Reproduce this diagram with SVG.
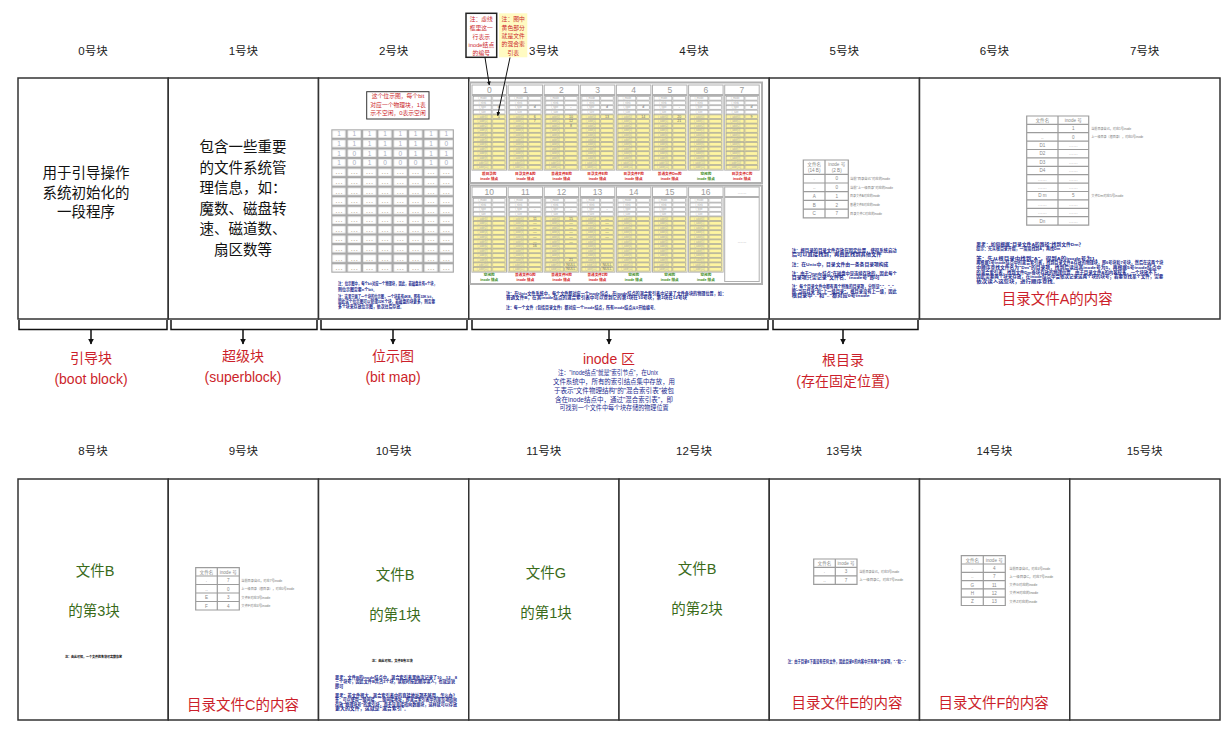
<svg xmlns="http://www.w3.org/2000/svg" width="1227" height="737" viewBox="0 0 1227 737">
<style>
text{font-family:"Liberation Sans","Noto Sans CJK SC",sans-serif}
.box{fill:#fff;stroke:#333;stroke-width:1.5}
.blk{font-size:11.5px;fill:#222;text-anchor:middle}
.big{font-size:14.5px;fill:#111;text-anchor:middle}
.grn{font-size:14.5px;fill:#3a6b1a;text-anchor:middle}
.lab{font-size:14px;fill:#cc1f2b;text-anchor:middle}
.redt{font-size:14.5px;fill:#cc1f2b;text-anchor:middle}
.note{font-size:4.2px;fill:#1d2b8f;font-weight:bold}
.bnote{font-size:3.8px;fill:#111;font-weight:bold}
.tb{fill:none;stroke:#9c9c9c;stroke-width:1.2}
.tt{font-size:4.6px;fill:#888;text-anchor:middle}
.ann{font-size:3.4px;fill:#777}
.cap{font-size:3.6px;font-weight:bold;text-anchor:middle}
.cr{fill:#d42020}
.cg{fill:#3a8a20}
.cv{font-size:3.6px;fill:#666;text-anchor:middle}
.hn{font-size:8.5px;fill:#9a9a9a;text-anchor:middle}
.bit{font-size:6.5px;fill:#aab0c2;text-anchor:middle}
.dot{font-size:8px;fill:#a89478;text-anchor:middle}
.lbl{font-size:2.6px;fill:#aaa;text-anchor:middle}
.rn{font-size:5.8px;fill:#cc1f2b;text-anchor:middle}
.conn{fill:none;stroke:#111;stroke-width:1.5}
</style>
<defs>
<marker id="ah" viewBox="0 0 10 10" refX="9" refY="5" markerWidth="6" markerHeight="6" markerUnits="userSpaceOnUse" orient="auto"><path d="M0,0L10,5L0,10z" fill="#111"/></marker>
<marker id="ahs" viewBox="0 0 10 10" refX="9" refY="5" markerWidth="4" markerHeight="4" markerUnits="userSpaceOnUse" orient="auto"><path d="M0,0L10,5L0,10z" fill="#111"/></marker>
<pattern id="rowp" patternUnits="userSpaceOnUse" x="0" y="11" width="34.5" height="4.6"><rect x="1.5" y="0.4" width="18" height="3.8" fill="none" stroke="#9a9a9a" stroke-width="0.6"/><rect x="20.5" y="0.4" width="12.5" height="3.8" fill="none" stroke="#9a9a9a" stroke-width="0.6"/></pattern>
<pattern id="bitp" patternUnits="userSpaceOnUse" x="331.3" y="129.3" width="15.33" height="9.56"><rect x="0.6" y="0.6" width="14.1" height="8.36" fill="#fff" stroke="#a8a8a8" stroke-width="1.2"/></pattern>
<g id="card">
<rect x="0" y="0" width="34.5" height="9.5" fill="#fff" stroke="#b0b0b0" stroke-width="1"/>
<rect x="0" y="10.5" width="34.5" height="74.6" fill="#fff" stroke="#b0b0b0" stroke-width="1"/>
<rect x="0.5" y="29.4" width="33.5" height="55.2" fill="#fff5a0"/>
<rect x="0" y="11" width="34.5" height="73.6" fill="url(#rowp)"/>
<text class="lbl"><tspan x="10.5" y="14.2">i_mode</tspan><tspan x="10.5" y="18.8">i_nlink</tspan><tspan x="10.5" y="23.4">i_type</tspan><tspan x="10.5" y="28">i_size</tspan><tspan x="10.5" y="32.6">i_addr[0]</tspan><tspan x="10.5" y="37.2">i_addr[1]</tspan><tspan x="10.5" y="41.8">i_addr[2]</tspan><tspan x="10.5" y="46.4">i_addr[3]</tspan><tspan x="10.5" y="51">i_addr[4]</tspan><tspan x="10.5" y="55.6">i_addr[5]</tspan><tspan x="10.5" y="60.2">i_addr[6]</tspan><tspan x="10.5" y="64.8">i_addr[7]</tspan><tspan x="10.5" y="69.4">i_addr[8]</tspan><tspan x="10.5" y="74">i_addr[9]</tspan><tspan x="10.5" y="78.6">i_addr[10]</tspan><tspan x="10.5" y="83.2">i_addr[11]</tspan></text>
</g>
</defs>
<rect width="1227" height="737" fill="#fff"/>

<!-- top row -->
<g id="block0">
<text class="blk" x="93" y="55">0号块</text>
<rect class="box" x="18" y="78" width="150.25" height="241"/>
<text class="big" x="86" y="178" font-size="14">用于引导操作</text>
<text class="big" x="86" y="197.5" font-size="14">系统初始化的</text>
<text class="big" x="86" y="217" font-size="14">一段程序</text>
</g>
<g id="block1">
<text class="blk" x="243.4" y="55">1号块</text>
<rect class="box" x="168.25" y="78" width="150.25" height="241"/>
<text class="big" x="243" y="152">包含一些重要</text>
<text class="big" x="243" y="172.5">的文件系统管</text>
<text class="big" x="243" y="193">理信息，如：</text>
<text class="big" x="243" y="213.5">魔数、磁盘转</text>
<text class="big" x="243" y="234">速、磁道数、</text>
<text class="big" x="243" y="254.5">扇区数等</text>
</g>
<g id="block2">
<text class="blk" x="393.6" y="55">2号块</text>
<rect class="box" x="318.5" y="78" width="150.25" height="241"/>
<rect x="366.7" y="91.7" width="62.3" height="27.3" fill="#fff" stroke="#333" stroke-width="1"/>
<text class="rn" x="398" y="98">这个位示图，每个bit</text>
<text class="rn" x="398" y="106.5">对应一个物理块，1表</text>
<text class="rn" x="398" y="115">示不空闲，0表示空闲</text>
<rect x="331.3" y="129.3" width="122.64" height="143.4" fill="url(#bitp)"/>
<text class="bit" x="339 354.3 369.6 385 400.3 415.6 431 446.3" y="136.4">11111111</text>
<text class="bit" x="339 354.3 369.6 385 400.3 415.6 431 446.3" y="145.9">11111110</text>
<text class="bit" x="339 354.3 369.6 385 400.3 415.6 431 446.3" y="155.5">10110111</text>
<text class="bit" x="339 354.3 369.6 385 400.3 415.6 431 446.3" y="165.1">10100010</text>
<text class="dot" x="339 354.3 369.6 385 400.3 415.6 431 446.3" y="174.4">……………………</text>
<text class="dot" x="339 354.3 369.6 385 400.3 415.6 431 446.3" y="184">……………………</text>
<text class="dot" x="339 354.3 369.6 385 400.3 415.6 431 446.3" y="193.5">……………………</text>
<text class="dot" x="339 354.3 369.6 385 400.3 415.6 431 446.3" y="203.1">……………………</text>
<text class="dot" x="339 354.3 369.6 385 400.3 415.6 431 446.3" y="212.7">……………………</text>
<text class="dot" x="339 354.3 369.6 385 400.3 415.6 431 446.3" y="222.2">……………………</text>
<text class="dot" x="339 354.3 369.6 385 400.3 415.6 431 446.3" y="231.8">……………………</text>
<text class="dot" x="339 354.3 369.6 385 400.3 415.6 431 446.3" y="241.3">……………………</text>
<text class="dot" x="339 354.3 369.6 385 400.3 415.6 431 446.3" y="250.9">……………………</text>
<text class="dot" x="339 354.3 369.6 385 400.3 415.6 431 446.3" y="260.5">……………………</text>
<text class="dot" x="339 354.3 369.6 385 400.3 415.6 431 446.3" y="270">……………………</text>
<text class="note" x="338" y="285" textLength="99" lengthAdjust="spacingAndGlyphs">注：位示图中，每个bit对应一个物理块，因此，若磁盘共有n个块，</text>
<text class="note" x="338" y="290.8" textLength="39" lengthAdjust="spacingAndGlyphs">则位示图需要n个bit。</text>
<text class="note" x="338" y="298.2" textLength="96.7" lengthAdjust="spacingAndGlyphs">注：这里只画了一个块的位示图，一个块若有4KB，即有32K bit，</text>
<text class="note" x="338" y="302.8" textLength="97" lengthAdjust="spacingAndGlyphs">因此这个位示图可以管理32K个块，若磁盘的块更多，则需要</text>
<text class="note" x="338" y="307.8" textLength="66" lengthAdjust="spacingAndGlyphs">多个块来存放位示图，依次往后存放。</text>
</g>
<g id="block3-4">
<text class="blk" x="543.8" y="55">3号块</text>
<text class="blk" x="694" y="55">4号块</text>
<rect class="box" x="468.75" y="78" width="300.5" height="241"/>
<rect x="470" y="82.5" width="292" height="100.5" fill="none" stroke="#b0b0b0" stroke-width="2"/>
<rect x="470" y="185.5" width="292" height="98.5" fill="none" stroke="#b0b0b0" stroke-width="2"/>
<text class="note" x="506" y="295" textLength="220" lengthAdjust="spacingAndGlyphs">注：在Unix文件系统中，每个文件都对应一个inode结点，在inode结点的混合索引表中记录了文件各块的物理位置，如：</text>
<text class="note" x="506" y="299.2" textLength="181" lengthAdjust="spacingAndGlyphs">普通文件B，在其inode结点的混合索引表中可以查到它的第1块在10号块，第2块在12号块</text>
<text class="note" x="506" y="309" textLength="151.7" lengthAdjust="spacingAndGlyphs">注：每一个文件（包括目录文件）都对应一个inode结点，所有inode结点从0开始编号。</text>
</g>
<g id="inode0"><use href="#card" x="472" y="85"/><text class="hn" x="489.25" y="92.5">0</text><text class="cv" x="498.75" y="108.4">d</text><text class="cv" x="498.75" y="117.6">5</text><text class="cap cr" x="489.25" y="175.3">根目录的</text><text class="cap cr" x="489.25" y="179.5">inode 结点</text></g>
<g id="inode1"><use href="#card" x="508.1" y="85"/><text class="hn" x="525.35" y="92.5">1</text><text class="cv" x="534.85" y="108.4">d</text><text class="cv" x="534.85" y="117.6">6</text><text class="cv" x="534.85" y="122.2">7</text><text class="cap cr" x="525.35" y="175.3">目录文件A的</text><text class="cap cr" x="525.35" y="179.5">inode 结点</text></g>
<g id="inode2"><use href="#card" x="544.2" y="85"/><text class="hn" x="561.45" y="92.5">2</text><text class="cv" x="570.95" y="108.4">-</text><text class="cv" x="570.95" y="117.6">10</text><text class="cv" x="570.95" y="122.2">12</text><text class="cv" x="570.95" y="126.8">8</text><text class="cap cr" x="561.45" y="175.3">普通文件B的</text><text class="cap cr" x="561.45" y="179.5">inode 结点</text></g>
<g id="inode3"><use href="#card" x="580.3" y="85"/><text class="hn" x="597.55" y="92.5">3</text><text class="cv" x="607.05" y="108.4">d</text><text class="cv" x="607.05" y="117.6">13</text><text class="cap cr" x="597.55" y="175.3">目录文件E的</text><text class="cap cr" x="597.55" y="179.5">inode 结点</text></g>
<g id="inode4"><use href="#card" x="616.4" y="85"/><text class="hn" x="633.65" y="92.5">4</text><text class="cv" x="643.15" y="108.4">d</text><text class="cv" x="643.15" y="117.6">14</text><text class="cap cr" x="633.65" y="175.3">目录文件F的</text><text class="cap cr" x="633.65" y="179.5">inode 结点</text></g>
<g id="inode5"><use href="#card" x="652.5" y="85"/><text class="hn" x="669.75" y="92.5">5</text><text class="cv" x="679.25" y="108.4">-</text><text class="cv" x="679.25" y="117.6">20</text><text class="cv" x="679.25" y="122.2">21</text><text class="cap cr" x="669.75" y="175.3">普通文件Dm的</text><text class="cap cr" x="669.75" y="179.5">inode 结点</text></g>
<g id="inode6"><use href="#card" x="688.6" y="85"/><text class="hn" x="705.85" y="92.5">6</text><text class="cap cg" x="705.85" y="175.3">空闲的</text><text class="cap cg" x="705.85" y="179.5">inode 结点</text></g>
<g id="inode7"><use href="#card" x="724.7" y="85"/><text class="hn" x="741.95" y="92.5">7</text><text class="cv" x="751.45" y="108.4">d</text><text class="cv" x="751.45" y="117.6">9</text><text class="cap cr" x="741.95" y="175.3">目录文件C的</text><text class="cap cr" x="741.95" y="179.5">inode 结点</text></g>
<g id="inode10"><use href="#card" x="472" y="187"/><text class="hn" x="489.25" y="194.5">10</text><text class="cap cg" x="489.25" y="276.3">空闲的</text><text class="cap cg" x="489.25" y="280.5">inode 结点</text></g>
<g id="inode11"><use href="#card" x="508.1" y="187"/><text class="hn" x="525.35" y="194.5">11</text><text class="cv" x="534.85" y="210.4">-</text><text class="cv" x="534.85" y="219.6">11</text><text class="cv" x="534.85" y="224.2">—</text><text class="cv" x="534.85" y="228.8">—</text><text class="cv" x="534.85" y="233.4">—</text><text class="cv" x="534.85" y="238">—</text><text class="cv" x="534.85" y="242.6">—</text><text class="cv" x="534.85" y="247.2">16</text><text class="cap cr" x="525.35" y="276.3">普通文件G的</text><text class="cap cr" x="525.35" y="280.5">inode 结点</text></g>
<g id="inode12"><use href="#card" x="544.2" y="187"/><text class="hn" x="561.45" y="194.5">12</text><text class="cv" x="570.95" y="210.4">-</text><text class="cv" x="570.95" y="219.6">15</text><text class="cv" x="570.95" y="224.2">—</text><text class="cv" x="570.95" y="228.8">—</text><text class="cv" x="570.95" y="233.4">—</text><text class="cv" x="570.95" y="238">—</text><text class="cv" x="570.95" y="242.6">—</text><text class="cv" x="570.95" y="261">21</text><text class="cv" x="570.95" y="265.6">NULL</text><text class="cv" x="570.95" y="270.2">NULL</text><text class="cap cr" x="561.45" y="276.3">普通文件H的</text><text class="cap cr" x="561.45" y="280.5">inode 结点</text></g>
<g id="inode13"><use href="#card" x="580.3" y="187"/><text class="hn" x="597.55" y="194.5">13</text><text class="cv" x="607.05" y="210.4">-</text><text class="cv" x="607.05" y="219.6">—</text><text class="cv" x="607.05" y="224.2">—</text><text class="cv" x="607.05" y="228.8">—</text><text class="cv" x="607.05" y="233.4">—</text><text class="cv" x="607.05" y="238">—</text><text class="cv" x="607.05" y="265.6">NULL</text><text class="cv" x="607.05" y="270.2">NULL</text><text class="cap cr" x="597.55" y="276.3">普通文件Z的</text><text class="cap cr" x="597.55" y="280.5">inode 结点</text></g>
<g id="inode14"><use href="#card" x="616.4" y="187"/><text class="hn" x="633.65" y="194.5">14</text><text class="cap cg" x="633.65" y="276.3">空闲的</text><text class="cap cg" x="633.65" y="280.5">inode 结点</text></g>
<g id="inode15"><use href="#card" x="652.5" y="187"/><text class="hn" x="669.75" y="194.5">15</text><text class="cap cg" x="669.75" y="276.3">空闲的</text><text class="cap cg" x="669.75" y="280.5">inode 结点</text></g>
<g id="inode16"><use href="#card" x="688.6" y="187"/><text class="hn" x="705.85" y="194.5">16</text><text class="cap cg" x="705.85" y="276.3">空闲的</text><text class="cap cg" x="705.85" y="280.5">inode 结点</text></g>
<g id="inode-more">
<rect x="724.7" y="187" width="34.5" height="9.5" fill="#fff" stroke="#b0b0b0" stroke-width="1"/>
<rect x="724.7" y="197.5" width="34.5" height="84" fill="#fff" stroke="#b0b0b0" stroke-width="1"/>
<text class="tt" x="742" y="193.5" fill="#999">……</text>
<text class="tt" x="742" y="243" fill="#999">……</text>
</g>
<g id="note-num">
<rect x="466" y="13.3" width="30.7" height="44" fill="#fff" stroke="#222" stroke-width="1.5"/>
<text class="rn" x="481.3" y="21">注：虚线</text>
<text class="rn" x="481.3" y="29.7">框里这一</text>
<text class="rn" x="481.3" y="38.7">行表示</text>
<text class="rn" x="481.3" y="47" font-size="5.3">inode结点</text>
<text class="rn" x="481.3" y="54.7">的编号</text>
</g>
<g id="note-yellow">
<rect x="499" y="13.3" width="28.3" height="44" fill="#fffbc2"/>
<text class="rn" x="513.2" y="21">注：图中</text>
<text class="rn" x="513.2" y="29.5">黄色部分</text>
<text class="rn" x="513.2" y="38">就是文件</text>
<text class="rn" x="513.2" y="46.3">的混合索</text>
<text class="rn" x="513.2" y="54.7">引表</text>
</g>
<g id="block5">
<text class="blk" x="844.2" y="55">5号块</text>
<rect class="box" x="769.25" y="78" width="150.25" height="241"/>
<path class="tb" d="M803.3,160H848.3V217.8H803.3Z M803.3,174.3H848.3 M803.3,183H848.3 M803.3,191.7H848.3 M803.3,200.4H848.3 M803.3,209.1H848.3 M825,160V217.8"/>
<text class="tt" x="814.2" y="166">文件名</text><text class="tt" x="814.2" y="172">(14 B)</text>
<text class="tt" x="836.7" y="166">inode 号</text><text class="tt" x="836.7" y="172">(2 B)</text>
<text class="tt" x="814.2" y="180.4">.</text><text class="tt" x="836.7" y="180.4">0</text>
<text class="tt" x="814.2" y="189.1">..</text><text class="tt" x="836.7" y="189.1">0</text>
<text class="tt" x="814.2" y="197.8">A</text><text class="tt" x="836.7" y="197.8">1</text>
<text class="tt" x="814.2" y="206.5">B</text><text class="tt" x="836.7" y="206.5">2</text>
<text class="tt" x="814.2" y="215.2">C</text><text class="tt" x="836.7" y="215.2">7</text>
<text class="ann" x="850" y="180" textLength="40" lengthAdjust="spacingAndGlyphs">当前"目录自己"对应的inode</text>
<text class="ann" x="850" y="188.7" textLength="43" lengthAdjust="spacingAndGlyphs">当前"上一级目录"对应的inode</text>
<text class="ann" x="850" y="197.4" textLength="30" lengthAdjust="spacingAndGlyphs">目录文件A对应的inode</text>
<text class="ann" x="850" y="206.1" textLength="30" lengthAdjust="spacingAndGlyphs">普通文件B对应的inode</text>
<text class="ann" x="850" y="214.8" textLength="32" lengthAdjust="spacingAndGlyphs">目录文件C对应的inode</text>
<text class="note" x="791.7" y="251.5" textLength="105" lengthAdjust="spacingAndGlyphs">注：根目录的目录文件存放在固定位置，使得系统启动</text>
<text class="note" x="791.7" y="255.8" textLength="90" lengthAdjust="spacingAndGlyphs">后可以直接找到，再由此找到其他文件</text>
<text class="note" x="791.7" y="265.8" textLength="96.7" lengthAdjust="spacingAndGlyphs">注：在Unix中，目录文件由一条条目录项构成</text>
<text class="note" x="791.7" y="274.5" textLength="105" lengthAdjust="spacingAndGlyphs">注：由于"inode结点"在磁盘中是连续存放的，因此每个</text>
<text class="note" x="791.7" y="278.8" textLength="88" lengthAdjust="spacingAndGlyphs">目录项只需记录"文件名、inode号"即可</text>
<text class="note" x="791.7" y="288.2" textLength="102" lengthAdjust="spacingAndGlyphs">注：每个目录文件中都有两个特殊的目录项，分别是"."、".."</text>
<text class="note" x="791.7" y="292.5" textLength="105" lengthAdjust="spacingAndGlyphs">即"当前目录"和"上一级目录"，根目录没有上一级，因此</text>
<text class="note" x="791.7" y="296.8" textLength="78" lengthAdjust="spacingAndGlyphs">根目录中"."和".."都对应0号inode</text>
</g>
<g id="block6-7">
<text class="blk" x="994.4" y="55">6号块</text>
<text class="blk" x="1144.6" y="55">7号块</text>
<rect class="box" x="919.5" y="78" width="300.5" height="241"/>
<path class="tb" d="M1026.7,116H1088.7V225.1H1026.7Z M1026.7,124.3H1088.7 M1026.7,132.7H1088.7 M1026.7,141.1H1088.7 M1026.7,149.5H1088.7 M1026.7,157.9H1088.7 M1026.7,166.3H1088.7 M1026.7,174.7H1088.7 M1026.7,183.1H1088.7 M1026.7,191.5H1088.7 M1026.7,199.9H1088.7 M1026.7,208.3H1088.7 M1026.7,216.7H1088.7 M1058,116V225.1"/>
<text class="tt" x="1042.35" y="121.9">文件名</text><text class="tt" x="1073.35" y="121.9">inode 号</text>
<text class="tt" x="1042.35" y="130.2">.</text><text class="tt" x="1073.35" y="130.2">1</text>
<text class="tt" x="1042.35" y="138.6">..</text><text class="tt" x="1073.35" y="138.6">0</text>
<text class="tt" x="1042.35" y="147">D1</text><text class="tt" x="1073.35" y="147">……</text>
<text class="tt" x="1042.35" y="155.4">D2</text><text class="tt" x="1073.35" y="155.4">……</text>
<text class="tt" x="1042.35" y="163.8">D3</text><text class="tt" x="1073.35" y="163.8">……</text>
<text class="tt" x="1042.35" y="172.2">D4</text><text class="tt" x="1073.35" y="172.2">……</text>
<text class="tt" x="1042.35" y="180.6">……</text><text class="tt" x="1073.35" y="180.6">……</text>
<text class="tt" x="1042.35" y="189">……</text><text class="tt" x="1073.35" y="189">……</text>
<text class="tt" x="1042.35" y="197.4">D m</text><text class="tt" x="1073.35" y="197.4">5</text>
<text class="tt" x="1042.35" y="205.8">……</text><text class="tt" x="1073.35" y="205.8">……</text>
<text class="tt" x="1042.35" y="214.2">……</text><text class="tt" x="1073.35" y="214.2">……</text>
<text class="tt" x="1042.35" y="222.6">Dn</text><text class="tt" x="1073.35" y="222.6">……</text>
<text class="ann" x="1091.3" y="130" textLength="40" lengthAdjust="spacingAndGlyphs">当前目录自己，对应1号inode</text>
<text class="ann" x="1091.3" y="138.4" textLength="52" lengthAdjust="spacingAndGlyphs">上一级目录（根目录），对应0号inode</text>
<text class="ann" x="1091.3" y="197.2" textLength="32" lengthAdjust="spacingAndGlyphs">文件Dm对应5号inode</text>
<text class="note" x="976.3" y="245.5" textLength="107" lengthAdjust="spacingAndGlyphs">思考：如何根据"目录文件A的路径"找到文件Dm？</text>
<text class="note" x="976.3" y="250.3" textLength="84" lengthAdjust="spacingAndGlyphs">提示：先从根目录开始，一层层找到A，再找Dm</text>
<text class="note" x="976.3" y="259.8" textLength="124" lengthAdjust="spacingAndGlyphs">答：先从根目录中找到"A"，得到A的inode号为1，</text>
<text class="note" x="976.3" y="264.3" textLength="187" lengthAdjust="spacingAndGlyphs">再根据1号inode结点中的混合索引表，找到目录文件A存放的物理块，即6号块和7号块，然后在这两个块</text>
<text class="note" x="976.3" y="268.9" textLength="185" lengthAdjust="spacingAndGlyphs">中顺序查找文件名为"Dm"的目录项，找到后读出其inode号为5，再根据5号inode结点中</text>
<text class="note" x="976.3" y="273.5" textLength="185" lengthAdjust="spacingAndGlyphs">的混合索引表，找到文件Dm各块存放的物理位置。由于目录文件A的内容较多，一个块放不下，</text>
<text class="note" x="976.3" y="278.1" textLength="187" lengthAdjust="spacingAndGlyphs">因此需要两个块来存放，在inode结点中会依次记录这两个块的块号；若要查找某个文件，需要</text>
<text class="note" x="976.3" y="282.6" textLength="82" lengthAdjust="spacingAndGlyphs">依次读入这些块，进行顺序查找。</text>
<text class="redt" x="1057.3" y="304">目录文件A的内容</text>
</g>

<!-- part labels -->
<g id="label-boot"><text class="lab" x="91" y="363">引导块</text><text class="lab" x="91" y="384">(boot block)</text></g>
<g id="label-super"><text class="lab" x="243" y="360.5">超级块</text><text class="lab" x="243" y="382">(superblock)</text></g>
<g id="label-bitmap"><text class="lab" x="393" y="360.5">位示图</text><text class="lab" x="393" y="382">(bit map)</text></g>
<g id="label-inode">
<text class="lab" x="609" y="364">inode 区</text>
<text x="608" y="375.3" font-size="6.3" fill="#1d2b8f" text-anchor="middle" textLength="100" lengthAdjust="spacingAndGlyphs">注："inode结点"就是"索引节点"，在Unix</text>
<text x="614" y="384.3" font-size="6.3" fill="#1d2b8f" text-anchor="middle" textLength="122" lengthAdjust="spacingAndGlyphs">文件系统中，所有的索引结点集中存放，用</text>
<text x="614" y="392.8" font-size="6.3" fill="#1d2b8f" text-anchor="middle" textLength="120" lengthAdjust="spacingAndGlyphs">于表示"文件物理结构"的"混合索引表"被包</text>
<text x="614" y="401.8" font-size="6.3" fill="#1d2b8f" text-anchor="middle" textLength="118" lengthAdjust="spacingAndGlyphs">含在inode结点中，通过"混合索引表"，即</text>
<text x="614" y="410.3" font-size="6.3" fill="#1d2b8f" text-anchor="middle" textLength="109" lengthAdjust="spacingAndGlyphs">可找到一个文件中每个块存储的物理位置</text>
</g>
<g id="label-root"><text class="lab" x="843" y="365">根目录</text><text class="lab" x="843" y="386">(存在固定位置)</text></g>

<!-- bottom row -->
<g id="block8">
<text class="blk" x="93" y="455">8号块</text>
<rect class="box" x="18" y="479" width="150.25" height="241"/>
<text class="grn" x="95" y="576">文件B</text>
<text class="grn" x="94" y="616">的第3块</text>
<text class="bnote" x="65" y="658" textLength="57" lengthAdjust="spacingAndGlyphs">注：由此可知，一个文件的各块可离散存放</text>
</g>
<g id="block9">
<text class="blk" x="243.4" y="455">9号块</text>
<rect class="box" x="168.25" y="479" width="150.25" height="241"/>
<path class="tb" d="M195.7,567.7H239.3V610H195.7Z M195.7,576H239.3 M195.7,584.5H239.3 M195.7,593H239.3 M195.7,601.5H239.3 M217.3,567.7V610"/>
<text class="tt" x="206.5" y="573.5" font-size="4.3">文件名</text><text class="tt" x="228.3" y="573.5" font-size="4.3">inode 号</text>
<text class="tt" x="206.5" y="582">.</text><text class="tt" x="228.3" y="582">7</text>
<text class="tt" x="206.5" y="590.5">..</text><text class="tt" x="228.3" y="590.5">0</text>
<text class="tt" x="206.5" y="599">E</text><text class="tt" x="228.3" y="599">3</text>
<text class="tt" x="206.5" y="607.5">F</text><text class="tt" x="228.3" y="607.5">4</text>
<text class="ann" x="241.3" y="581.5" textLength="41" lengthAdjust="spacingAndGlyphs">当前目录自己，对应7号inode</text>
<text class="ann" x="241.3" y="590" textLength="53" lengthAdjust="spacingAndGlyphs">上一级目录（根目录），对应0号inode</text>
<text class="ann" x="241.3" y="598.5" textLength="29" lengthAdjust="spacingAndGlyphs">文件E对应3号inode</text>
<text class="ann" x="241.3" y="607" textLength="29" lengthAdjust="spacingAndGlyphs">文件F对应4号inode</text>
<text class="redt" x="243" y="710">目录文件C的内容</text>
</g>
<g id="block10">
<text class="blk" x="393.6" y="455">10号块</text>
<rect class="box" x="318.5" y="479" width="150.25" height="241"/>
<text class="grn" x="395" y="580">文件B</text>
<text class="grn" x="395" y="620">的第1块</text>
<text class="bnote" x="371.7" y="661.5" textLength="41" lengthAdjust="spacingAndGlyphs">注：由此可知，文件B有三块</text>
<text class="note" x="335" y="678.8" textLength="122" lengthAdjust="spacingAndGlyphs">思考：文件B的inode结点中，混合索引表里依次记录了10、12、8</text>
<text class="note" x="335" y="683.2" textLength="120" lengthAdjust="spacingAndGlyphs">三个块号，因此文件B共占3个块，读取时按此顺序读入，也就是说</text>
<text class="note" x="335" y="688.2" textLength="8.3" lengthAdjust="spacingAndGlyphs">即可</text>
<text class="note" x="335" y="696.8" textLength="122" lengthAdjust="spacingAndGlyphs">思考：若文件很大，混合索引表中的直接地址项不够用，怎么办？</text>
<text class="note" x="335" y="701.2" textLength="122" lengthAdjust="spacingAndGlyphs">答：可以使用一级间接、二级间接地址，即混合索引表中的某些项指向</text>
<text class="note" x="335" y="705.8" textLength="122" lengthAdjust="spacingAndGlyphs">存放"物理块号"的索引块，而不是直接指向数据块，这样就可以存放</text>
<text class="note" x="335" y="710.2" textLength="74" lengthAdjust="spacingAndGlyphs">更大的文件，这就是"混合索引"。</text>
</g>
<g id="block11">
<text class="blk" x="543.8" y="455">11号块</text>
<rect class="box" x="468.75" y="479" width="150.25" height="241"/>
<text class="grn" x="546" y="578">文件G</text>
<text class="grn" x="546" y="618">的第1块</text>
</g>
<g id="block12">
<text class="blk" x="694" y="455">12号块</text>
<rect class="box" x="619" y="479" width="150.25" height="241"/>
<text class="grn" x="697" y="574">文件B</text>
<text class="grn" x="697" y="614">的第2块</text>
</g>
<g id="block13">
<text class="blk" x="844.2" y="455">13号块</text>
<rect class="box" x="769.25" y="479" width="150.25" height="241"/>
<path class="tb" d="M813.7,559H857V584.3H813.7Z M813.7,567.3H857 M813.7,575.8H857 M835.3,559V584.3"/>
<text class="tt" x="824.5" y="564.8" font-size="4.3">文件名</text><text class="tt" x="846.15" y="564.8" font-size="4.3">inode 号</text>
<text class="tt" x="824.5" y="573.3">.</text><text class="tt" x="846.15" y="573.3">3</text>
<text class="tt" x="824.5" y="581.8">..</text><text class="tt" x="846.15" y="581.8">7</text>
<text class="ann" x="859.3" y="572.8" textLength="40" lengthAdjust="spacingAndGlyphs">当前目录自己，对应3号inode</text>
<text class="ann" x="859.3" y="581.3" textLength="44" lengthAdjust="spacingAndGlyphs">上一级目录C，对应7号inode</text>
<text class="note" x="787.7" y="662.5" textLength="118" lengthAdjust="spacingAndGlyphs">注：由于目录E下面没有任何文件，因此目录E的内容中只有两个目录项，"."和".."</text>
<text class="redt" x="847" y="708">目录文件E的内容</text>
</g>
<g id="block14">
<text class="blk" x="994.4" y="455">14号块</text>
<rect class="box" x="919.5" y="479" width="150.25" height="241"/>
<path class="tb" d="M961.3,555.7H1005.3V605.5H961.3Z M961.3,564H1005.3 M961.3,572.3H1005.3 M961.3,580.6H1005.3 M961.3,588.9H1005.3 M961.3,597.2H1005.3 M983.3,555.7V605.5"/>
<text class="tt" x="972.3" y="561.5" font-size="4.3">文件名</text><text class="tt" x="994.3" y="561.5" font-size="4.3">inode 号</text>
<text class="tt" x="972.3" y="569.9">.</text><text class="tt" x="994.3" y="569.9">4</text>
<text class="tt" x="972.3" y="578.2">..</text><text class="tt" x="994.3" y="578.2">7</text>
<text class="tt" x="972.3" y="586.5">G</text><text class="tt" x="994.3" y="586.5">11</text>
<text class="tt" x="972.3" y="594.8">H</text><text class="tt" x="994.3" y="594.8">12</text>
<text class="tt" x="972.3" y="603.1">Z</text><text class="tt" x="994.3" y="603.1">13</text>
<text class="ann" x="1009.3" y="569.5" textLength="41" lengthAdjust="spacingAndGlyphs">当前目录自己，对应4号inode</text>
<text class="ann" x="1009.3" y="577.8" textLength="44" lengthAdjust="spacingAndGlyphs">上一级目录C，对应7号inode</text>
<text class="ann" x="1009.3" y="586.1" textLength="28" lengthAdjust="spacingAndGlyphs">文件G对应的inode</text>
<text class="ann" x="1009.3" y="594.4" textLength="29" lengthAdjust="spacingAndGlyphs">文件H对应的inode</text>
<text class="ann" x="1009.3" y="602.7" textLength="28" lengthAdjust="spacingAndGlyphs">文件Z对应的inode</text>
<text class="redt" x="993.7" y="708">目录文件F的内容</text>
</g>
<g id="block15">
<text class="blk" x="1144.6" y="455">15号块</text>
<rect class="box" x="1069.75" y="479" width="150.25" height="241"/>
</g>

<!-- connectors -->
<g id="connectors">
<path class="conn" d="M19,320V329.5H167V320"/>
<path class="conn" d="M171,320V329.5H317V320"/>
<path class="conn" d="M321,320V329.5H467V320"/>
<path class="conn" d="M472,320V329.5H768V320"/>
<path class="conn" d="M773,320V329.5H918V320"/>
<line class="conn" x1="91" y1="329.5" x2="91" y2="344" marker-end="url(#ah)"/>
<line class="conn" x1="243" y1="329.5" x2="243" y2="344" marker-end="url(#ah)"/>
<line class="conn" x1="393" y1="329.5" x2="393" y2="344" marker-end="url(#ah)"/>
<line class="conn" x1="609" y1="329.5" x2="609" y2="344" marker-end="url(#ah)"/>
<line class="conn" x1="843" y1="329.5" x2="843" y2="344" marker-end="url(#ah)"/>
<line x1="485" y1="57.5" x2="489.3" y2="85" stroke="#111" stroke-width="1" marker-end="url(#ahs)"/>
<line x1="510" y1="57.5" x2="497.7" y2="115.5" stroke="#111" stroke-width="1" marker-end="url(#ahs)"/>
</g>
</svg>
